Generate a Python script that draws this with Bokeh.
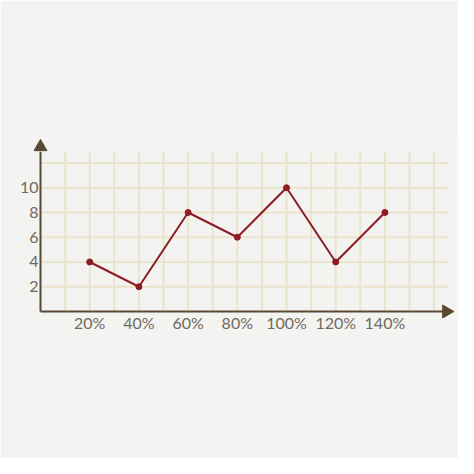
import math
from bokeh.plotting import figure
from bokeh.models import FixedTicker, Range1d
from bokeh.embed import file_html
from bokeh.resources import INLINE

# data
x_pct = [20, 40, 60, 80, 100, 120, 140]
y_vals = [4, 2, 8, 6, 10, 4, 8]
x_tick_labels = ["20%", "40%", "60%", "80%", "100%", "120%", "140%"]
y_ticks = [2, 4, 6, 8, 10]
x_grid = [10, 20, 30, 40, 50, 60, 70, 80, 90, 100, 110, 120, 130, 140, 150, 160]
y_grid = [2, 4, 6, 8, 10, 12]

BG = "#f3f3f2"
GRID = "#ebe4cc"
AXIS = "#5b4a33"
TEXT = "#716a5c"
LINE = "#8e1b24"

X_START, X_END = -2.85, 169.1
Y_START, Y_END = -0.566, 13.98

p = figure(width=458, height=458, output_backend="svg", toolbar_location=None,
           x_range=Range1d(X_START, X_END), y_range=Range1d(Y_START, Y_END),
           min_border_left=33, min_border_right=2, min_border_top=138, min_border_bottom=140)
p.background_fill_color = BG
p.border_fill_color = BG
p.outline_line_color = None
p.xgrid.visible = False
p.ygrid.visible = False

# grid
p.segment(x0=x_grid, y0=[0] * len(x_grid), x1=x_grid, y1=[12.9] * len(x_grid),
          line_color=GRID, line_width=2)
p.segment(x0=[0] * len(y_grid), y0=y_grid, x1=[166] * len(y_grid), y1=y_grid,
          line_color=GRID, line_width=2)

# axes lines with arrow heads
p.segment(x0=[0, 0], y0=[0, 0], x1=[0, 164], y1=[12.9, 0], line_color=AXIS, line_width=2)
p.scatter([0], [13.3], marker="triangle", size=13, fill_color=AXIS, line_color=AXIS)
p.scatter([165.0], [0], marker="triangle", size=13, angle=-math.pi / 2,
          fill_color=AXIS, line_color=AXIS)

# series
p.line(x_pct, y_vals, line_color=LINE, line_width=2)
p.scatter(x_pct, y_vals, size=6, fill_color=LINE, line_color=LINE)

# axes
for ax in (p.xaxis, p.yaxis):
    ax.axis_line_color = None
    ax.major_tick_line_color = None
    ax.minor_tick_line_color = None
    ax.major_label_text_font = "Lato"
    ax.major_label_text_color = TEXT
    ax.major_label_text_font_size = "16px"
    ax.major_tick_in = 0
    ax.major_tick_out = 0

p.xaxis.ticker = FixedTicker(ticks=x_pct)
p.xaxis.major_label_overrides = {x: lab for x, lab in zip(x_pct, x_tick_labels)}
p.xaxis.major_label_standoff = -6

p.yaxis.ticker = FixedTicker(ticks=y_ticks)
p.yaxis.major_label_standoff = -5

open("out.html", "w").write(file_html(p, INLINE))
